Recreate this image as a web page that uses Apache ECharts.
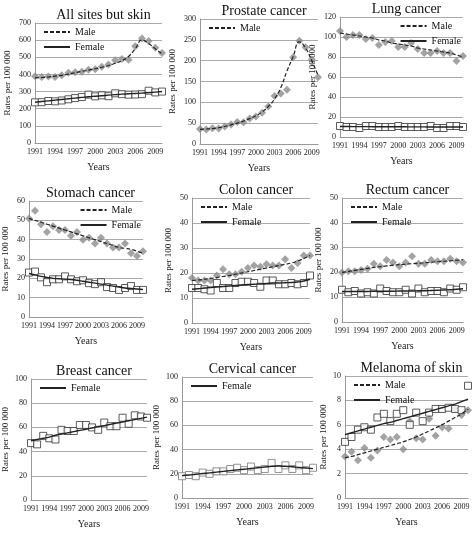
<!DOCTYPE html>
<html><head><meta charset="utf-8">
<script src="https://cdn.jsdelivr.net/npm/echarts@6/dist/echarts.min.js"></script>
<style>html,body{margin:0;background:#fff}#c{width:474px;height:535px}</style>
</head><body><div id="c"></div>
<script>
var years = [];
for (var y = 1991; y <= 2010; y++) years.push(String(y));

// all sites but skin
var allMale = [390,385,388,385,395,410,413,415,428,430,445,458,483,490,485,565,610,595,555,525];
var allMaleTrend = [380,382,385,390,395,402,410,418,425,433,442,452,465,480,505,550,600,580,550,520];
var allFemale = [237,238,245,243,248,255,262,268,282,272,278,273,290,285,282,283,285,305,295,300];
var allFemaleTrend = [238,242,246,250,254,258,262,266,270,273,276,279,282,285,287,289,291,294,297,300];
// prostate
var prosMale = [36,35,38,37,42,47,53,52,61,66,75,90,115,121,130,208,248,232,203,160];
var prosMaleTrend = [35,36,37,39,42,46,50,55,61,68,77,90,108,135,175,210,245,230,200,165];
// lung
var lungMale = [106,100,102,102,98,99,92,95,96,90,90,94,88,84,84,86,84,84,76,81];
var lungMaleTrend = [104,103,102,101,100,99,97,96,94,93,92,91,89,88,87,86,85,84,82,80];
var lungFemale = [11,10,10,9,11,11,10,10,10,11,10,10,10,10,11,9,9,11,11,10];
var lungFemaleTrend = [10.5,10.5,10.4,10.4,10.4,10.3,10.3,10.3,10.2,10.2,10.2,10.1,10.1,10.1,10,10,10,10,10,10];
// stomach
var stoMale = [51,55,48,44,47,45,45,42,44,40,41,38,41,38,36,36,38,33,31.5,34];
var stoMaleTrend = [51,50,49,48,47,46,45,44,43,42,41,40,39,38,37,36,35.5,35,34,33];
var stoFemale = [23,23.5,20.5,18,19.5,19.5,21,19.5,18.5,19,17.5,17,18,15.5,15,14,15,16,14,14];
var stoFemaleTrend = [22.5,21.8,21,20.5,20,19.8,19.6,19.4,19,18.5,18,17.5,17,16.5,16,15.5,15,14.8,14.5,14.2];
// colon
var colMale = [18,17,17,17,19,21.5,19.5,19.5,20.5,22,23,22.5,23.5,23,23,25.5,22,24,27,27];
var colMaleTrend = [17,17.2,17.5,17.8,18.2,18.6,19,19.5,20,20.5,21,21.5,22,22.5,23,23.5,24,24.8,25.8,27];
var colFemale = [14,14,13.5,13,16,14,14,16,16.5,16.5,16,14.5,17,17,15.5,15.5,16,15.5,16,19];
var colFemaleTrend = [13.5,13.7,14,14.2,14.4,14.6,14.8,15,15.2,15.4,15.5,15.6,15.8,16,16,16.1,16.2,16.4,16.8,17.5];
// rectum
var recMale = [20,20.5,20.5,21,21.5,23.5,22.5,25,24,22.5,24,26.5,23.5,23.5,25,24.5,24.5,25.5,24.5,24];
var recMaleTrend = [20,20.4,20.8,21.2,21.6,22,22.3,22.6,22.9,23.1,23.3,23.5,23.7,23.9,24.1,24.3,24.5,24.7,24.9,25.1];
var recFemale = [13,12,12.5,11.5,12,11.5,13.5,12.5,12,12,13,11.5,13.5,12,12.5,12.5,12,13.5,13,14];
var recFemaleTrend = [12.3,12.3,12.3,12.3,12.3,12.4,12.4,12.4,12.4,12.5,12.5,12.5,12.6,12.6,12.7,12.8,12.9,13,13.2,13.4];
// breast
var breFemale = [47,46,53,51,50,58,57,57,62,62,60,58,64,61,61,68,63,70,69,68];
var breFemaleTrend = [49,50,51,52,53.5,54.5,55.5,56.5,57.5,58.5,59.5,60.5,61.5,62.5,63.5,64.5,65.5,66.5,67.5,68.5];
// cervical
var cerFemale = [18,19,18,21,20,22,22,24,25,23,26,23,24,29,24,27,24,27,23,25];
var cerFemaleTrend = [18.5,19,19.6,20.2,20.8,21.4,22,22.6,23.2,23.8,24.4,25,25.6,26.2,26.4,26.2,25.8,25.3,24.8,24.3];
// melanoma
var melMale = [3.4,3.8,3.1,4.1,3.3,3.9,5.0,4.8,5.0,4.0,6.3,4.9,4.8,6.5,5.1,5.8,5.7,7.3,6.8,7.2];
var melMaleTrend = [3.3,3.4,3.55,3.7,3.85,4.0,4.15,4.3,4.45,4.6,4.8,5.0,5.25,5.5,5.75,6.0,6.3,6.6,6.9,7.3];
var melFemale = [4.6,5.0,5.6,5.8,5.6,6.6,6.9,6.3,6.9,7.2,6.0,7.0,6.3,7.0,7.3,7.3,7.4,7.3,7.2,9.2];
var melFemaleTrend = [5.2,5.35,5.5,5.65,5.8,5.95,6.1,6.2,6.35,6.5,6.65,6.8,6.95,7.1,7.25,7.4,7.55,7.7,7.9,8.1];

var panels = [
  {t:'All sites but skin', g:[35,23,127,120], max:700, step:100, m:allMale, mt:allMaleTrend, f:allFemale, ft:allFemaleTrend, leg:'left', ng:23},
  {t:'Prostate cancer', g:[200,19,118,125], max:300, step:50, m:prosMale, mt:prosMaleTrend, leg:'left', ng:23},
  {t:'Lung cancer', g:[340,17,123,120], max:120, step:20, m:lungMale, mt:lungMaleTrend, f:lungFemale, ft:lungFemaleTrend, leg:'right', ng:23},
  {t:'Stomach cancer', g:[28,201,115,116], max:60, step:10, m:stoMale, mt:stoMaleTrend, f:stoFemale, ft:stoFemaleTrend, leg:'right', ng:19},
  {t:'Colon cancer', g:[192,198,118,125], max:50, step:10, m:colMale, mt:colMaleTrend, f:colFemale, ft:colFemaleTrend, leg:'left', ng:19},
  {t:'Rectum cancer', g:[342,198,121,124], max:50, step:10, m:recMale, mt:recMaleTrend, f:recFemale, ft:recFemaleTrend, leg:'left', ng:19},
  {t:'Breast cancer', g:[31,379,116,121], max:100, step:20, f:breFemale, ft:breFemaleTrend, leg:'left', ng:21},
  {t:'Cervical cancer', g:[182,377,131,121], max:100, step:20, f:cerFemale, ft:cerFemaleTrend, leg:'left', light:true, ng:21},
  {t:'Melanoma of skin', g:[345,376,123,122], max:10, step:2, m:melMale, mt:melMaleTrend, f:melFemale, ft:melFemaleTrend, leg:'left', ng:17}
];

var font = 'Liberation Serif';
var option = {animation:false, textStyle:{fontFamily:font}, title:[], grid:[], xAxis:[], yAxis:[], legend:[], series:[]};

panels.forEach(function(p, i){
  var g = p.g;
  option.grid.push({left:g[0], top:g[1], width:g[2], height:g[3]});
  option.title.push({text:p.t, left:g[0] + g[2]/2, top:g[1] - 20, textAlign:'center',
    textStyle:{fontFamily:font, fontSize:14, fontWeight:'normal', color:'#111'}});
  option.xAxis.push({type:'category', gridIndex:i, data:years, boundaryGap:false,
    name:'Years', nameLocation:'middle', nameGap:19, nameTextStyle:{fontFamily:font, fontSize:10, color:'#222'},
    axisLine:{lineStyle:{color:'#999'}}, axisTick:{show:false},
    axisLabel:{interval:2, fontSize:8, color:'#222', fontFamily:font, margin:5}});
  option.yAxis.push({type:'value', gridIndex:i, min:0, max:p.max, interval:p.step,
    name:'Rates per 100 000', nameLocation:'middle', nameGap:p.ng, nameTextStyle:{fontFamily:font, fontSize:9, color:'#222'},
    axisLine:{show:true, lineStyle:{color:'#999'}}, axisTick:{show:false},
    splitLine:{lineStyle:{color:'#aaa'}},
    axisLabel:{fontSize:8, color:'#222', fontFamily:font, margin:4}});
  var names = [];
  if (p.m) {
    option.series.push({type:'scatter', xAxisIndex:i, yAxisIndex:i, data:p.m, symbol:'diamond', symbolSize:8,
      itemStyle:{color:'#8c8c8c'}, z:2});
    option.series.push({type:'line', name:'Male', xAxisIndex:i, yAxisIndex:i, data:p.mt, symbol:'none', smooth:true,
      itemStyle:{color:'#222'}, lineStyle:{color:'#222', width:1.2, type:[4,2]}, z:3});
    names.push('Male');
  }
  if (p.f) {
    option.series.push({type:'scatter', xAxisIndex:i, yAxisIndex:i, data:p.f, symbol:'rect', symbolSize:7,
      itemStyle:{color:'#fff', borderColor:p.light ? '#777' : '#333', borderWidth:1}, z:2});
    option.series.push({type:'line', name:'Female', xAxisIndex:i, yAxisIndex:i, data:p.ft, symbol:'none', smooth:true,
      itemStyle:{color:'#222'}, lineStyle:{color:'#222', width:1.4}, z:3});
    names.push('Female');
  }
  var leg = {data:names, orient:'vertical', top:g[1] + 4, itemWidth:26, itemHeight:2, itemGap:5,
    itemStyle:{opacity:0}, textStyle:{fontFamily:font, fontSize:10, color:'#111'}, padding:0};
  if (p.leg === 'left') leg.left = g[0] + 8; else leg.right = 474 - g[0] - g[2] + 2;
  option.legend.push(leg);
});

var chart = echarts.init(document.getElementById('c'));
chart.setOption(option);
</script>
</body></html>
